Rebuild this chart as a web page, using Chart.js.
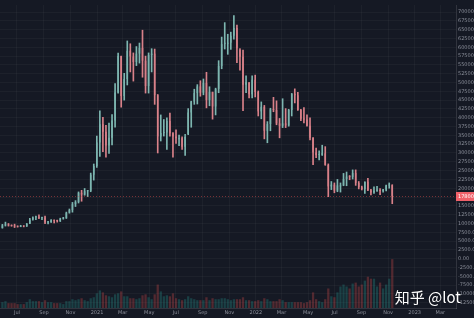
<!DOCTYPE html>
<html>
<head>
<meta charset="utf-8">
<script src="https://cdn.jsdelivr.net/npm/chart.js@4"></script>
<style>
  html, body { margin: 0; padding: 0; background: #151924; overflow: hidden; }
  #wrap { width: 474px; height: 318px; position: relative; }
</style>
</head>
<body>
<div id="wrap"><canvas id="grafico"></canvas></div>
<script>
  const DAY = 86400000;
  const firstWeek = '2020-05-25';   // weekly candles, one per week from here
  const firstOpen = 8720;

  const highs = [
    9740, 10380, 9990, 9600, 9800, 9300, 9480, 9330, 10000, 11450,
    11900, 12100, 12470, 11750, 12090, 10580, 11100, 10990, 10950, 11500,
    11730, 13220, 14100, 15970, 16480, 18950, 19400, 19920, 19400, 24300,
    26870, 34800, 41950, 40100, 37850, 38500, 40900, 49700, 58350, 57500,
    52600, 61800, 61000, 58400, 60200, 61200, 64850, 57500, 58400, 59600,
    59500, 46600, 40800, 39500, 40000, 41300, 35800, 36600, 35100, 34600,
    34500, 42600, 44700, 48100, 49400, 50500, 51000, 52900, 48800, 47300,
    48400, 56200, 62900, 67000, 63700, 64300, 69000, 66300, 59300, 59200,
    51900, 50000, 51900, 52100, 47600, 44500, 43500, 38900, 42700, 45800,
    44800, 39800, 45400, 42600, 42400, 46900, 48200, 47200, 42400, 42900,
    40800, 40000, 34400, 31400, 30600, 32200, 31800, 26900, 21900, 21500,
    22500, 21500, 24200, 24600, 23600, 25200, 25200, 21900, 20600, 21800,
    22800, 19700, 20400, 20500, 19900, 19700, 20900, 21500, 21000
  ];
  const lows = [
    8640, 9250, 9240, 9200, 8830, 8950, 9060, 9020, 9130, 9950,
    10950, 11100, 11370, 11100, 9950, 9850, 10270, 10130, 10370, 10530,
    11200, 11410, 12900, 13200, 14800, 15800, 16300, 18000, 17600, 19000,
    22300, 25900, 29000, 30400, 28800, 29900, 32300, 37350, 47000, 43000,
    45000, 49300, 53000, 50400, 54800, 55500, 51500, 47000, 47000, 53000,
    43800, 30000, 33400, 34800, 31000, 34800, 28800, 32700, 32100, 31000,
    29300, 35200, 37300, 43800, 43900, 46100, 46500, 42800, 43400, 39600,
    40800, 47100, 53900, 59500, 58000, 59400, 62300, 55600, 53500, 42000,
    47100, 45600, 45600, 45900, 40500, 39700, 34000, 32900, 36300, 41700,
    38000, 34300, 37200, 37200, 37600, 40500, 44200, 42100, 39200, 38500,
    37600, 33700, 26700, 28700, 28000, 29300, 26500, 17600, 19600, 18700,
    19000, 18900, 20700, 20700, 22400, 22600, 20800, 19800, 19500, 18500,
    19300, 18100, 18500, 19100, 18200, 18900, 19200, 20000, 15600
  ];
  const closes = [
    9450, 9750, 9390, 9300, 9140, 9070, 9240, 9170, 9930, 11100,
    11680, 11850, 11650, 11700, 10250, 10330, 10920, 10770, 10670, 11380,
    11500, 13030, 13780, 15480, 16070, 18700, 18180, 19150, 19270, 23830,
    26270, 32940, 38150, 36000, 32100, 34300, 39200, 47200, 57500, 46200,
    51000, 59000, 57400, 55800, 58200, 59800, 56200, 49000, 57800, 58200,
    46400, 34700, 35700, 35800, 39100, 35600, 34700, 34200, 34200, 31800,
    35400, 41500, 44600, 47000, 48900, 47100, 49900, 45000, 47300, 43200,
    48200, 54700, 60900, 61300, 61300, 63300, 65500, 59700, 57300, 49400,
    50100, 46700, 50800, 47300, 41800, 43100, 36300, 38200, 42400, 42200,
    38400, 37700, 38400, 37800, 42200, 46800, 46400, 42200, 39700, 39500,
    37700, 34300, 30100, 29400, 29500, 29900, 26600, 20500, 21000, 19300,
    20800, 20800, 22600, 23300, 23200, 24300, 21500, 20300, 19800, 21800,
    19400, 18800, 19300, 19400, 19200, 19600, 20800, 20900, 17800
  ];
  const volumes = [
    6, 7, 5, 5, 5, 4, 4, 4, 6, 9,
    7, 7, 7, 6, 8, 6, 6, 5, 5, 5,
    4, 7, 7, 9, 8, 9, 10, 8, 7, 10,
    11, 15, 18, 16, 13, 12, 11, 14, 15, 17,
    12, 12, 10, 10, 9, 10, 13, 14, 11, 9,
    14, 24, 17, 12, 13, 12, 15, 10, 9, 8,
    9, 12, 10, 9, 8, 8, 8, 11, 8, 10,
    9, 9, 10, 10, 9, 8, 9, 9, 9, 11,
    8, 8, 7, 7, 8, 7, 10, 9, 7, 7,
    7, 9, 8, 6, 6, 6, 6, 6, 6, 5,
    6, 8, 16, 9, 7, 6, 9, 20, 12, 11,
    16, 22, 24, 22, 20, 25, 26, 22, 24, 28,
    32, 30, 30, 22, 26, 20, 24, 30, 50
  ];

  const tickDates = [
    '2020-07-01', '2020-09-01', '2020-11-01', '2021-01-01', '2021-03-01', '2021-05-01',
    '2021-07-01', '2021-09-01', '2021-11-01', '2022-01-01', '2022-03-01', '2022-05-01',
    '2022-07-01', '2022-09-01', '2022-11-01', '2023-01-01', '2023-03-01'
  ];
  const tickLabels = [
    'Jul', 'Sep', 'Nov', '2021', 'Mar', 'May',
    'Jul', 'Sep', 'Nov', '2022', 'Mar', 'May',
    'Jul', 'Sep', 'Nov', '2023', 'Mar'
  ];
  const priceStep = 2500;

  const UP = '#7db6b0';
  const DOWN = '#d98189';
  const UP_VOL = 'rgba(38,166,154,0.28)';
  const DOWN_VOL = 'rgba(239,83,80,0.28)';

  const day = (s) => Date.parse(s) / DAY;
  const start = day(firstWeek);
  const opens = closes.map((c, i) => (i === 0 ? firstOpen : closes[i - 1]));
  const xs = closes.map((_, i) => start + i * 7 + 3.5);
  const isUp = closes.map((c, i) => c >= opens[i]);
  const colors = isUp.map(u => (u ? UP : DOWN));
  const volColors = isUp.map(u => (u ? UP_VOL : DOWN_VOL));

  const wicks = xs.map((x, i) => ({ x: x, y: [lows[i], highs[i]] }));
  const bodies = xs.map((x, i) => ({ x: x, y: [opens[i], closes[i]] }));
  const vols = xs.map((x, i) => ({ x: x, y: volumes[i] }));

  // linha e etiqueta do último preço
  const lastPrice = {
    id: 'lastPrice',
    afterDatasetsDraw(chart) {
      const { ctx, chartArea, scales } = chart;
      const price = closes[closes.length - 1];
      const y = Math.round(scales.y.getPixelForValue(price)) + 0.5;
      ctx.save();
      ctx.strokeStyle = 'rgba(239,83,80,0.45)';
      ctx.lineWidth = 1;
      ctx.setLineDash([1, 2]);
      ctx.beginPath();
      ctx.moveTo(chartArea.left, y);
      ctx.lineTo(chartArea.right, y);
      ctx.stroke();
      ctx.setLineDash([]);
      ctx.fillStyle = '#f0616a';
      ctx.fillRect(chartArea.right, y - 4.5, chart.width - chartArea.right, 9);
      ctx.fillStyle = '#ffffff';
      ctx.font = '5px "DejaVu Sans"';
      ctx.textBaseline = 'middle';
      ctx.fillText(price.toFixed(2), chartArea.right + 2, y);
      ctx.restore();
    }
  };

  const watermark = {
    id: 'watermark',
    afterDraw(chart) {
      const ctx = chart.ctx;
      ctx.save();
      ctx.font = '15px "Noto Sans CJK SC"';
      ctx.fillStyle = '#ffffff';
      ctx.textAlign = 'right';
      ctx.textBaseline = 'alphabetic';
      ctx.shadowColor = 'rgba(0,0,0,0.5)';
      ctx.shadowBlur = 2;
      ctx.fillText('知乎 @lot', 461, 303);
      ctx.restore();
    }
  };

  new Chart(document.getElementById('grafico'), {
    type: 'bar',
    data: {
      datasets: [
        {
          label: 'Volume',
          data: vols,
          yAxisID: 'vol',
          backgroundColor: volColors,
          grouped: false,
          barPercentage: 0.75,
          categoryPercentage: 1,
          order: 3
        },
        {
          label: 'Wick',
          data: wicks,
          yAxisID: 'y',
          backgroundColor: colors,
          grouped: false,
          barThickness: 1,
          order: 2
        },
        {
          label: 'Body',
          data: bodies,
          yAxisID: 'y',
          backgroundColor: colors,
          grouped: false,
          barPercentage: 0.5,
          categoryPercentage: 1,
          minBarLength: 1,
          order: 1
        }
      ]
    },
    options: {
      responsive: true,
      maintainAspectRatio: false,
      animation: false,
      layout: { padding: 0 },
      plugins: {
        legend: { display: false },
        tooltip: { enabled: false }
      },
      scales: {
        x: {
          type: 'linear',
          offset: false,
          min: day('2020-05-23'),
          max: day('2023-04-06'),
          afterBuildTicks: (scale) => {
            scale.ticks = tickDates.map(d => ({ value: day(d) }));
          },
          afterFit: (scale) => { scale.height = 10; },
          grid: { color: 'rgba(255,255,255,0.035)', drawTicks: false, offset: false },
          border: { color: 'rgba(255,255,255,0.12)' },
          ticks: {
            autoSkip: false,
            maxRotation: 0,
            padding: 2,
            color: '#8a8e99',
            font: { size: 5, family: 'DejaVu Sans' },
            callback: (v, i) => tickLabels[i]
          }
        },
        y: {
          position: 'right',
          min: -14000,
          max: 72000,
          // marcas a cada 2500 dentro do intervalo
          afterBuildTicks: (scale) => {
            const ticks = [];
            for (let v = Math.ceil(scale.min / priceStep) * priceStep; v <= scale.max; v += priceStep) {
              ticks.push({ value: v });
            }
            scale.ticks = ticks;
          },
          afterFit: (scale) => { scale.width = 18; },
          grid: { color: 'rgba(255,255,255,0.035)', drawTicks: false },
          border: { color: 'rgba(255,255,255,0.12)' },
          ticks: {
            autoSkip: false,
            padding: 2,
            color: '#8a8e99',
            font: { size: 5, family: 'DejaVu Sans' },
            callback: (v) => v.toFixed(2)
          }
        },
        vol: {
          axis: 'y',
          display: false,
          min: 0,
          max: 310
        }
      }
    },
    plugins: [lastPrice, watermark]
  });
</script>
</body>
</html>
